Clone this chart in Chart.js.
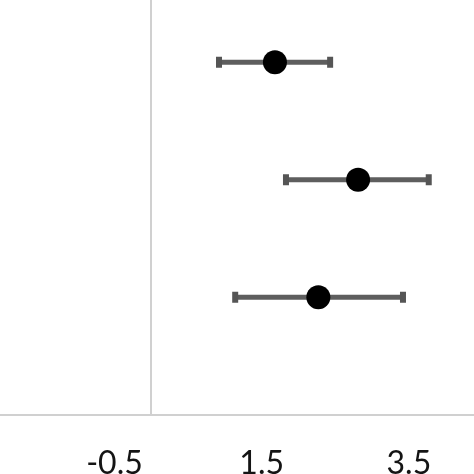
<!DOCTYPE html>
<html>
<head>
<meta charset="utf-8">
<script src="https://cdn.jsdelivr.net/npm/chart.js@4/dist/chart.umd.min.js"></script>
<style>
  html, body { margin: 0; padding: 0; background: #fff; }
  #wrap { width: 474px; height: 474px; }
</style>
</head>
<body>
<div id="wrap"><canvas id="chart" width="474" height="474"></canvas></div>
<script>
// rows (top to bottom), point estimates and interval ends
const rowY = [3, 2, 1];
const estimates = [1.68, 2.81, 2.27];
const lowerBounds = [0.92, 1.83, 1.14];
const upperBounds = [2.43, 3.77, 3.42];
const xTickValues = [-0.5, 1.5, 3.5];

const barColor = '#5e5e5e';
const axisColor = '#d0d0d0';

// one line dataset per interval, caps drawn as rotated 'line' points
const intervalSets = rowY.map((y, i) => ({
  data: [{ x: lowerBounds[i], y: y }, { x: upperBounds[i], y: y }],
  showLine: true,
  borderColor: barColor,
  borderWidth: 5,
  pointStyle: 'line',
  rotation: 90,
  pointRadius: 5.5,
  pointBorderWidth: 6,
  pointBorderColor: '#555555',
  order: 2
}));

const estimateSet = {
  data: rowY.map((y, i) => ({ x: estimates[i], y: y })),
  pointRadius: 12,
  pointBackgroundColor: '#000',
  pointBorderColor: '#000',
  pointBorderWidth: 0,
  order: 0
};

new Chart(document.getElementById('chart'), {
  type: 'scatter',
  data: { datasets: [...intervalSets, estimateSet] },
  options: {
    responsive: false,
    animation: false,
    events: [],
    layout: { autoPadding: false, padding: { left: 0, right: 0, top: 0, bottom: -39 } },
    plugins: { legend: { display: false }, tooltip: { enabled: false } },
    scales: {
      x: {
        type: 'linear',
        position: 'bottom',
        min: -2.056,
        max: 4.385,
        afterBuildTicks: (scale) => {
          scale.ticks = xTickValues.map(v => ({ value: v }));
        },
        grid: { display: false, drawTicks: false },
        border: { display: true, color: axisColor, width: 2 },
        ticks: {
          padding: 30,
          color: '#141414',
          font: { family: 'Lato', size: 32 },
          maxRotation: 0,
          callback: (v) => String(v)
        }
      },
      y: {
        type: 'linear',
        position: { x: 0 },
        min: 0,
        max: 3.53,
        grid: { display: false, drawTicks: false },
        border: { display: true, color: axisColor, width: 2 },
        ticks: { display: false }
      }
    }
  }
});
</script>
</body>
</html>
